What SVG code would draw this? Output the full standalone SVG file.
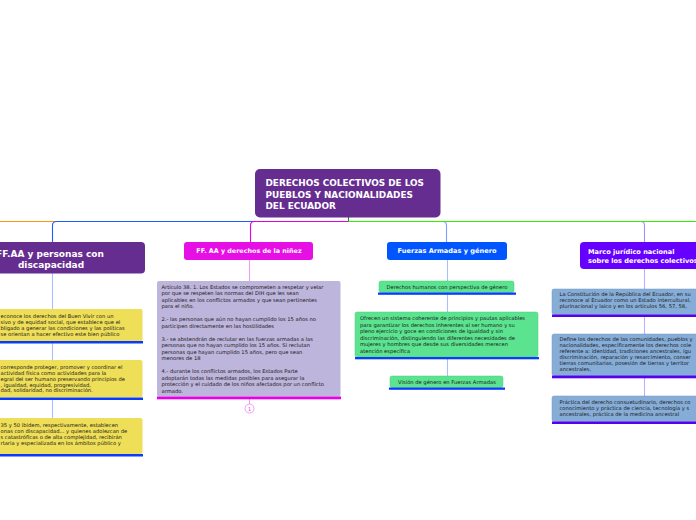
<svg xmlns="http://www.w3.org/2000/svg" width="696" height="520" viewBox="0 0 696 520">
<style>
text{font-family:"DejaVu Sans","Verdana",sans-serif}
.hw{fill:#fff;font-weight:bold}
.s{font-size:5.2px;fill:#1a1a1a}
.c{fill:none;stroke-width:1.1}
.yl{fill:#efdf58}
.gr{fill:#5be38f;stroke:#4fcf80;stroke-width:0.5}
.bl{fill:#86add8;stroke:#6f98c6;stroke-width:0.5}
</style>
<rect width="696" height="520" fill="#fff"/>
<g id="connectors">
<path class="c" stroke="#f59a10" d="M348.5,217 V221.5 H-20"/>
<path class="c" stroke="#1f5cff" d="M348.5,221.5 H56.5 Q52.5,221.5 52.5,225.5 V243"/>
<path class="c" stroke="#e600e6" d="M348.5,221.5 H254.5 Q250.5,221.5 250.5,225.5 V243"/>
<path class="c" stroke="#7f9cff" d="M348.5,221.5 H442.5 Q446.5,221.5 446.5,225.5 V243"/>
<path class="c" stroke="#a58cff" d="M348.5,221.5 H640.5 Q644.5,221.5 644.5,225.5 V243"/>
<path class="c" stroke="#33f000" d="M348.5,221.5 H720"/>
<path class="c" stroke="#2e7d32" d="M348.5,217 V221.5"/>
<path class="c" stroke="#a9bdff" d="M52.5,273 V456"/>
<path class="c" stroke="#f39af3" d="M249.5,260 V281 M249.5,399 V404"/>
<path class="c" stroke="#a9bdff" d="M447.5,260 V389"/>
<path class="c" stroke="#c0adff" d="M644.5,269 V424"/>
</g>
<g id="root">
<rect x="255" y="169" width="185.5" height="48.5" rx="5" fill="#662d91"/>
<text class="hw" font-size="8.9" x="265.5" y="186">DERECHOS COLECTIVOS DE LOS</text>
<text class="hw" font-size="8.9" x="265.5" y="197.5">PUEBLOS Y NACIONALIDADES</text>
<text class="hw" font-size="8.9" x="265.5" y="209">DEL ECUADOR</text>
</g>
<g id="h-discapacidad">
<rect x="-45" y="242" width="190" height="31.5" rx="4" fill="#662d91"/>
<text class="hw" font-size="9" x="50" y="256.5" text-anchor="middle">FF.AA y personas con</text>
<text class="hw" font-size="9" x="51" y="268" text-anchor="middle">discapacidad</text>
</g>
<g id="h-ninez">
<rect x="184" y="242" width="129" height="18" rx="3" fill="#e60fe6"/>
<text class="hw" font-size="6.4" x="249" y="253.3" text-anchor="middle">FF. AA y derechos de la niñez</text>
</g>
<g id="h-genero">
<rect x="387" y="242" width="120" height="18" rx="3" fill="#0055ff"/>
<text class="hw" font-size="6.6" x="447" y="253.3" text-anchor="middle">Fuerzas Armadas y género</text>
</g>
<g id="h-marco">
<rect x="580" y="242" width="130" height="27" rx="4" fill="#6600ff"/>
<text class="hw" font-size="6.6" x="588" y="253.5">Marco jurídico nacional</text>
<text class="hw" font-size="6.6" x="588" y="262.5">sobre los derechos colectivos</text>
</g>
<g id="y1">
<rect class="yl" x="-10" y="309" width="152.5" height="32.5" rx="2"/>
<rect x="-10" y="341" width="153" height="2.5" fill="#0a3cff"/>
<text class="s" x="0.5" y="318">econoce los derechos del Buen Vivir con un</text>
<text class="s" x="0.5" y="324">sivo y de equidad social, que establece que el</text>
<text class="s" x="0.5" y="330">bligado a generar las condiciones y las políticas</text>
<text class="s" x="0.5" y="336">se orientan a hacer efectivo este bien público</text>
</g>
<g id="y2">
<rect class="yl" x="-10" y="360" width="152.5" height="37.5" rx="2"/>
<rect x="-10" y="397.5" width="153" height="2.5" fill="#0a3cff"/>
<text class="s" x="0.5" y="369">corresponde proteger, promover y coordinar el</text>
<text class="s" x="0.5" y="375">actividad física como actividades para la</text>
<text class="s" x="0.5" y="380.7">egral del ser humano preservando principios de</text>
<text class="s" x="0.5" y="386.5">, igualdad, equidad, progresividad,</text>
<text class="s" x="0.5" y="392.3">dad, solidaridad, no discriminación.</text>
</g>
<g id="y3">
<rect class="yl" x="-10" y="418" width="152.5" height="36" rx="2"/>
<rect x="-10" y="454" width="153" height="2.5" fill="#0a3cff"/>
<text class="s" x="0.5" y="426.5">35 y 50 ibidem, respectivamente, establecen</text>
<text class="s" x="0.5" y="432.5">onas con discapacidad... y quienes adolezcan de</text>
<text class="s" x="0.5" y="438.5">s catastróficas o de alta complejidad, recibirán</text>
<text class="s" x="0.5" y="444.5">rtaria y especializada en los ámbitos público y</text>
</g>
<g id="art38">
<rect x="157" y="281" width="183.5" height="115.5" rx="2" fill="#bdb5db"/>
<rect x="157" y="396.5" width="184" height="2.8" fill="#e600e6"/>
<text class="s" x="161.5" y="288.8">Artículo 38. 1. Los Estados se comprometen a respetar y velar</text>
<text class="s" x="161.5" y="295.3">por que se respeten las normas del DIH que les sean</text>
<text class="s" x="161.5" y="301.8">aplicables en los conflictos armados y que sean pertinentes</text>
<text class="s" x="161.5" y="308.2">para el niño.</text>
<text class="s" x="161.5" y="321.2">2.- las personas que aún no hayan cumplido los 15 años no</text>
<text class="s" x="161.5" y="327.7">participen directamente en las hostilidades</text>
<text class="s" x="161.5" y="340.6">3.- se abstendrán de reclutar en las fuerzas armadas a las</text>
<text class="s" x="161.5" y="347.1">personas que no hayan cumplido los 15 años. Si reclutan</text>
<text class="s" x="161.5" y="353.6">personas que hayan cumplido 15 años, pero que sean</text>
<text class="s" x="161.5" y="360.1">menores de 18</text>
<text class="s" x="161.5" y="373.1">4.- durante los conflictos armados, los Estados Parte</text>
<text class="s" x="161.5" y="379.5">adoptarán todas las medidas posibles para asegurar la</text>
<text class="s" x="161.5" y="386">protección y el cuidado de los niños afectados por un conflicto</text>
<text class="s" x="161.5" y="392.5">armado.</text>
</g>
<g id="badge">
<circle cx="249.5" cy="408.5" r="4.5" fill="#fff" stroke="#f080f0" stroke-width="0.8"/>
<text x="249.5" y="410.5" font-size="5" fill="#e040e0" text-anchor="middle">1</text>
</g>
<g id="g1">
<rect class="gr" x="379" y="281" width="135" height="11.5" rx="2"/>
<rect x="378" y="292.5" width="138" height="2.3" fill="#0a3cff"/>
<text class="s" x="447" y="289" text-anchor="middle">Derechos humanos con perspectiva de género</text>
</g>
<g id="g2">
<rect class="gr" x="355" y="312" width="183" height="45" rx="2"/>
<rect x="355" y="357" width="184" height="2.3" fill="#0a3cff"/>
<text class="s" x="360" y="320">Ofrecen un sistema coherente de principios y pautas aplicables</text>
<text class="s" x="360" y="326.6">para garantizar los derechos inherentes al ser humano y su</text>
<text class="s" x="360" y="333.2">pleno ejercicio y goce en condiciones de igualdad y sin</text>
<text class="s" x="360" y="339.6">discriminación, distinguiendo las diferentes necesidades de</text>
<text class="s" x="360" y="346.2">mujeres y hombres que desde sus diversidades merecen</text>
<text class="s" x="360" y="352.8">atención específica</text>
</g>
<g id="g3">
<rect class="gr" x="390" y="376" width="113" height="11.5" rx="2"/>
<rect x="389" y="387.5" width="116" height="2.3" fill="#0a3cff"/>
<text class="s" x="447" y="384" text-anchor="middle">Visión de género en Fuerzas Armadas</text>
</g>
<g id="m1">
<rect class="bl" x="552" y="289" width="150" height="25.5" rx="2"/>
<rect x="552" y="314.5" width="150" height="2.5" fill="#5500ee"/>
<text class="s" x="559.5" y="296">La Constitución de la República del Ecuador, en su</text>
<text class="s" x="559.5" y="302">reconoce al Ecuador como un Estado intercultural,</text>
<text class="s" x="559.5" y="307.7">plurinacional y laico y en los artículos 56, 57, 58,</text>
</g>
<g id="m2">
<rect class="bl" x="552" y="334" width="150" height="41.5" rx="2"/>
<rect x="552" y="375.5" width="150" height="2.8" fill="#5500ee"/>
<text class="s" x="559.5" y="341">Define los derechos de las comunidades, pueblos y</text>
<text class="s" x="559.5" y="347">nacionalidades, específicamente los derechos cole</text>
<text class="s" x="559.5" y="353">referente a: identidad, tradiciones ancestrales, igu</text>
<text class="s" x="559.5" y="359">discriminación, reparación y resarcimiento, conser</text>
<text class="s" x="559.5" y="365">tierras comunitarias, posesión de tierras y territor</text>
<text class="s" x="559.5" y="371">ancestrales,</text>
</g>
<g id="m3">
<rect class="bl" x="552" y="396" width="150" height="25.5" rx="2"/>
<rect x="552" y="421.5" width="150" height="2.5" fill="#5500ee"/>
<text class="s" x="559.5" y="403.5">Práctica del derecho consuetudinario, derechos co</text>
<text class="s" x="559.5" y="409.5">conocimiento y práctica de ciencia, tecnología y s</text>
<text class="s" x="559.5" y="415.5">ancestrales, práctica de la medicina ancestral</text>
</g>
</svg>
